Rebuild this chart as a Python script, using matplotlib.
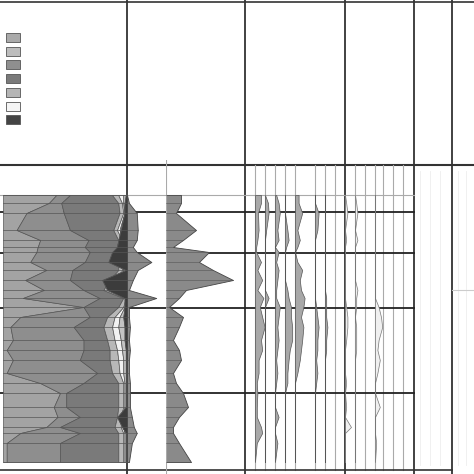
import numpy as np
import matplotlib.pyplot as plt

# sample depths (cm below top of plotted frame)
depth = [35, 43, 53, 70, 80, 87, 92, 102, 110, 120, 130, 138, 147, 157, 167, 180,
         190, 200, 213, 223, 233, 247, 257, 267, 273, 283, 302]

# cumulative boundaries of the stacked pollen sum (%)
b1 = [43, 37, 19, 11, 30, 28, 27, 22, 35, 18, 33, 16, 65, 14, 6, 8, 3, 8, 3, 30, 46, 41, 44, 35, 14, 3, 3]
b2 = [54, 47, 49, 54, 69, 66, 70, 66, 56, 54, 65, 78, 65, 70, 57, 65, 65, 62, 76, 65, 51, 51, 62, 46, 62, 46, 46]
b3 = [88, 93, 94, 89, 93, 92, 90, 93, 93, 86, 81, 97, 93, 84, 81, 84, 86, 86, 88, 93, 93, 93, 92, 90, 93, 93, 93]
b4 = [93, 96, 97, 92, 96, 95, 94, 96, 96, 93, 91, 99, 97, 90, 88, 90, 92, 93, 94, 97, 97, 97, 95, 95, 97, 97, 97]
b5 = [97, 97, 98, 94, 98, 97, 96, 97, 97, 95, 94, 99, 98, 94, 93, 95, 96, 97, 97, 98, 98, 98, 97, 97, 98, 98, 98]
b6 = [99, 98, 98, 95, 93, 92, 88, 85, 99, 80, 84, 98, 98, 97, 98, 98, 99, 99, 99, 99, 99, 99, 92, 96, 99, 99, 99]

curve2 = [0, 2, 10, 11, 10, 6, 10, 25, 11, 6, 2, 30, 2, 2, 3, 2, 3, 2, 2, 3, 3, 3, 5, 7, 10, 5, 2]
curve3 = [15, 15, 10, 30, 17, 7, 43, 33, 47, 67, 20, 13, 3, 17, 13, 7, 13, 15, 7, 10, 17, 22, 13, 7, 7, 13, 25]

# minor taxa (% in small columns)
minor_cols = [255, 265, 275, 285, 295, 315, 325]
minor_vals = [
    [10, 10, 5, 6, 4, 2, 2, 10, 4, 12, 4, 14, 8, 12, 16, 10, 12, 6, 6, 3, 4, 3, 3, 10, 12, 3, 0],
    [0, 5, 6, 2, 0, 0, 0, 0, 0, 0, 0, 6, 0, 0, 0, 0, 0, 0, 0, 0, 0, 0, 0, 0, 0, 0, 0],
    [2, 6, 8, 4, 6, 0, 6, 2, 6, 4, 2, 2, 8, 6, 4, 6, 4, 2, 4, 2, 0, 0, 6, 0, 0, 4, 0],
    [0, 0, 0, 4, 6, 2, 0, 0, 0, 0, 4, 6, 10, 10, 12, 12, 8, 6, 4, 4, 0, 0, 0, 0, 0, 0, 0],
    [6, 6, 12, 4, 8, 4, 0, 4, 12, 8, 10, 16, 14, 10, 14, 12, 10, 8, 4, 0, 0, 0, 0, 0, 0, 0, 0],
    [0, 0, 6, 4, 0, 0, 0, 0, 0, 0, 0, 0, 2, 4, 6, 4, 4, 2, 4, 2, 0, 0, 0, 0, 0, 0, 0],
    [0, 0, 0, 0, 0, 0, 0, 0, 0, 0, 0, 2, 2, 2, 4, 2, 2, 0, 0, 0, 0, 0, 0, 0, 0, 0, 0],
]
outline_cols = [345, 355, 375]
outline_vals = [
    [0, 2, 4, 0, 2, 0, 0, 0, 0, 0, 0, 0, 2, 4, 4, 2, 0, 0, 0, 2, 0, 2, 0, 10, 0, 0, 0],
    [0, 2, 4, 0, 4, 0, 0, 0, 0, 0, 4, 2, 2, 0, 2, 2, 2, 0, 0, 0, 0, 0, 0, 0, 0, 0, 0],
    [0, 0, 0, 0, 0, 0, 0, 0, 0, 0, 0, 0, 6, 10, 12, 6, 4, 8, 4, 0, 0, 8, 0, 0, 0, 2, 0],
]

zones = [52, 93, 148, 233]
legend_greys = ["#aaaaaa", "#bdbdbd", "#8f8f8f", "#7a7a7a", "#b5b5b5", "#f5f5f5", "#444444"]

W = 474.0
fig = plt.figure(figsize=(4.74, 4.74), dpi=100)

# frame overlay in pixel coordinates
frame = fig.add_axes([0, 0, 1, 1])
frame.set_xlim(0, W)
frame.set_ylim(W, 0)
frame.axis("off")
for x in [127, 245, 345, 414, 452]:
    frame.axvline(x, color="#333333", lw=1.3)
for x in [420, 430, 440, 458, 466]:
    frame.axvline(x, ymin=0.02, ymax=0.64, color="#eeeeee", lw=0.6)
frame.axhline(2, color="#333333", lw=1.2)
frame.axhline(165, color="#333333", lw=1.5)
frame.plot([452, W], [290, 290], color="#cccccc", lw=0.8)
for i, c in enumerate(legend_greys):
    frame.add_patch(plt.Rectangle((6, 33 + 13.7 * i), 14, 9, fc=c, ec="#555555", lw=0.6))

y0 = 160
def panel(x_left, x_right, xmax):
    ax = fig.add_axes([x_left / W, 0, (x_right - x_left) / W, (W - y0) / W])
    ax.set_xlim(0, xmax)
    ax.set_ylim(W - y0, 0)
    ax.axis("off")
    ax.patch.set_alpha(0)
    return ax

d = np.array(depth)
main = panel(3, 127, 100)
layers = [np.zeros(len(d)), b1, b2, b3, b4, b5, b6, np.full(len(d), 100)]
cols = ["#a3a3a3", "#8e8e8e", "#7a7a7a", "#b8b8b8", "#f2f2f2", "#c4c4c4", "#3c3c3c"]
for i in range(len(cols)):
    main.fill_betweenx(d, layers[i], layers[i + 1], color=cols[i], lw=0.5, ec="#555555")
for y in depth:
    main.plot([0, 100], [y, y], color="#555555", lw=0.5)

p2 = panel(127, 166, 40)
p2.fill_betweenx(d, 0, curve2, color="#8a8a8a", ec="#444444", lw=0.6)
for y, v in zip(depth, curve2):
    p2.plot([0, v], [y, y], color="#555555", lw=0.4)

p3 = panel(166, 245, 79)
p3.axvline(0, color="#aaaaaa", lw=0.8)
p3.fill_betweenx(d, 0, curve3, color="#8a8a8a", ec="#444444", lw=0.6)
for y, v in zip(depth, curve3):
    p3.plot([0, v], [y, y], color="#555555", lw=0.4)

for x in [255, 265, 275, 285, 295, 315, 325, 335, 355, 365, 375, 383, 393, 403]:
    frame.plot([x, x], [165, 470], color="#aaaaaa", lw=0.8)
for x, vals in zip(minor_cols, minor_vals):
    ax = panel(x, x + 30, 50)
    ax.fill_betweenx(d, 0, vals, color="#a8a8a8", ec="#555555", lw=0.5)
for x, vals in zip(outline_cols, outline_vals):
    ax = panel(x, x + 30, 50)
    ax.fill_betweenx(d, 0, vals, color="#f0f0f0", ec="#777777", lw=0.5)

for z in zones:
    frame.plot([0, 414], [z + y0, z + y0], color="#222222", lw=1.3)
frame.plot([0, 414], [195, 195], color="#aaaaaa", lw=0.8)
frame.plot([0, 452], [470, 470], color="#333333", lw=1.2)

fig.savefig("out.png", dpi=100)
